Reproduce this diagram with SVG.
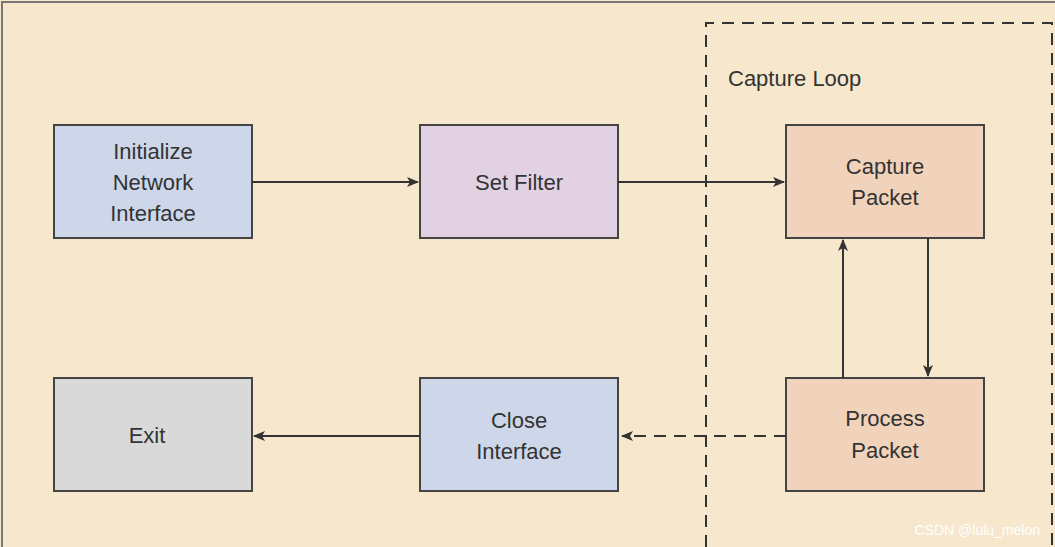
<svg xmlns="http://www.w3.org/2000/svg" width="1055" height="547" viewBox="0 0 1055 547">
<defs>
<marker id="ah" markerWidth="12" markerHeight="10" refX="11" refY="5" orient="auto" markerUnits="userSpaceOnUse"><path d="M0,0 L12,5 L0,10 L3,5 Z" fill="#333"/></marker>
<style>
.n{stroke:#444;stroke-width:2}
.t{font-family:"Liberation Sans",Arial,sans-serif;font-size:22px;fill:#333;text-anchor:middle}
.c{stroke:#333;stroke-width:2;fill:none;marker-end:url(#ah)}
</style>
</defs>
<rect width="1055" height="547" fill="#f6e7cd"/>
<path d="M2,547 V2 H1055" fill="none" stroke="#777" stroke-width="2"/>
<path d="M706,547 V23 H1052 V547" fill="none" stroke="#333" stroke-width="2" stroke-dasharray="12,8"/>
<text x="728" y="86" class="t" style="text-anchor:start">Capture Loop</text>
<g id="init"><rect x="54" y="125" width="198" height="113" fill="#cdd7e9" class="n"/><text class="t" x="153" y="159">Initialize</text><text class="t" x="153" y="190">Network</text><text class="t" x="153" y="221">Interface</text></g>
<g id="filter"><rect x="420" y="125" width="198" height="113" fill="#e2d1e2" class="n"/><text class="t" x="519" y="190">Set Filter</text></g>
<g id="capture"><rect x="786" y="125" width="198" height="113" fill="#f1d2ba" class="n"/><text class="t" x="885" y="174">Capture</text><text class="t" x="885" y="205">Packet</text></g>
<g id="process"><rect x="786" y="378" width="198" height="113" fill="#f1d2ba" class="n"/><text class="t" x="885" y="426">Process</text><text class="t" x="885" y="458">Packet</text></g>
<g id="close"><rect x="420" y="378" width="198" height="113" fill="#cdd7e9" class="n"/><text class="t" x="519" y="428">Close</text><text class="t" x="519" y="459">Interface</text></g>
<g id="exit"><rect x="54" y="378" width="198" height="113" fill="#d9d9d9" class="n"/><text class="t" x="147" y="443">Exit</text></g>
<g id="connectors">
<line x1="252" y1="182" x2="418" y2="182" class="c"/>
<line x1="618" y1="182" x2="784" y2="182" class="c"/>
<line x1="928" y1="238" x2="928" y2="376" class="c"/>
<line x1="843" y1="378" x2="843" y2="240" class="c"/>
<line x1="786" y1="436" x2="622" y2="436" class="c" stroke-dasharray="12,8"/>
<line x1="420" y1="436" x2="254" y2="436" class="c"/>
</g>
<text x="1040" y="535" style="font-family:'Liberation Sans',Arial,sans-serif;font-size:14px;fill:#fff;text-anchor:end">CSDN @lulu_melon</text>
</svg>
